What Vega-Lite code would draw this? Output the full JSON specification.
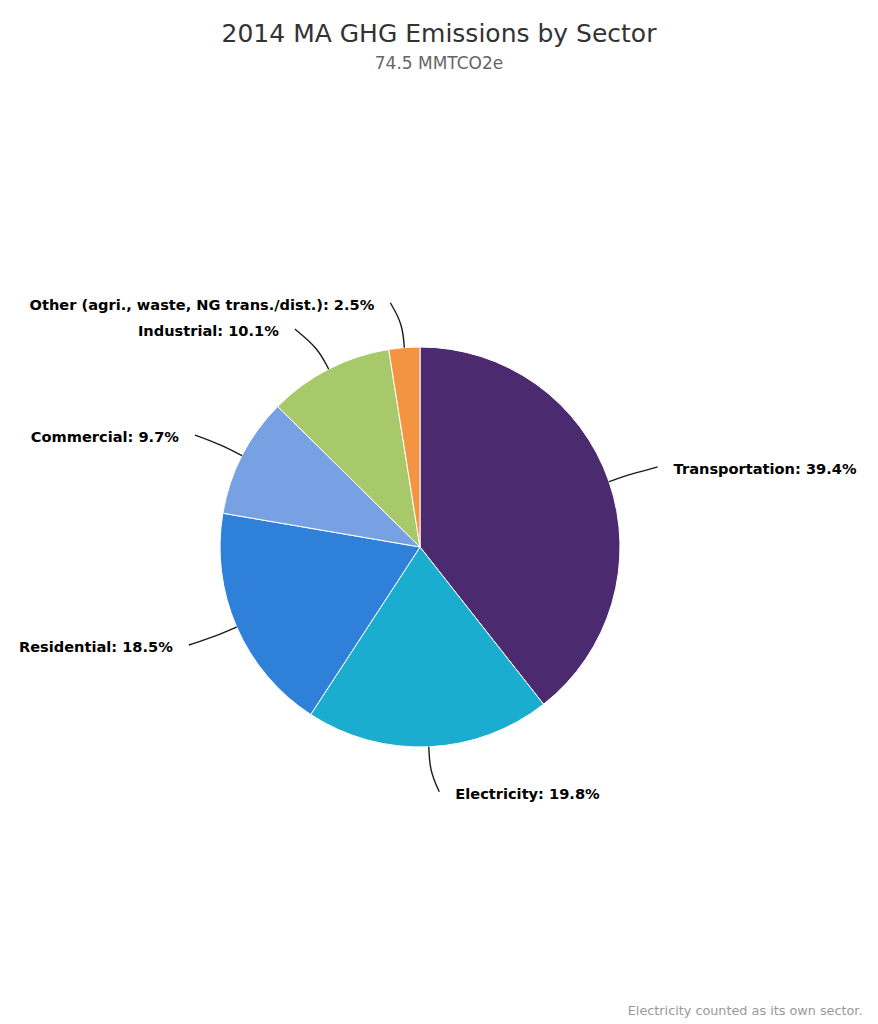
{
  "$schema": "https://vega.github.io/schema/vega-lite/v6.json",
  "width": 862,
  "height": 910,
  "autosize": {"type": "none"},
  "padding": {"top": 90, "bottom": 24, "left": 0, "right": 16},
  "background": "#ffffff",
  "title": {
    "text": "2014 MA GHG Emissions by Sector",
    "subtitle": "74.5 MMTCO2e",
    "anchor": "middle",
    "frame": "group",
    "dx": 8,
    "offset": 18,
    "font": "DejaVu Sans",
    "fontSize": 25,
    "fontWeight": "normal",
    "color": "#333333",
    "subtitleFont": "DejaVu Sans",
    "subtitleFontSize": 17,
    "subtitleColor": "#666666",
    "subtitlePadding": 9
  },
  "data": {
    "values": [
      {"idx": 1, "sector": "Transportation", "pct": 39.4},
      {"idx": 2, "sector": "Electricity", "pct": 19.8},
      {"idx": 3, "sector": "Residential", "pct": 18.5},
      {"idx": 4, "sector": "Commercial", "pct": 9.7},
      {"idx": 5, "sector": "Industrial", "pct": 10.1},
      {"idx": 6, "sector": "Other (agri., waste, NG trans./dist.)", "pct": 2.5}
    ]
  },
  "transform": [
    {"window": [{"op": "sum", "field": "pct", "as": "cum"}], "sort": [{"field": "idx"}], "frame": [null, 0]},
    {"calculate": "(datum.cum - datum.pct / 2) / 100 * 2 * PI", "as": "a"},
    {"calculate": "sin(datum.a)", "as": "ex"},
    {"calculate": "cos(datum.a)", "as": "ey"},
    {"calculate": "datum.ex >= 0 ? 1 : -1", "as": "sg"},
    {"calculate": "datum.ex * 1.12", "as": "bx"},
    {"calculate": "datum.ey * 1.12", "as": "by"},
    {"calculate": "datum.ex + datum.sg * 0.25 * sqrt(abs(datum.ex))", "as": "lx"},
    {"calculate": "datum.ey * 1.225", "as": "ly"},
    {"calculate": "datum.lx + datum.sg * 0.08", "as": "tx"},
    {"calculate": "datum.ly - 0.015", "as": "ty"},
    {"calculate": "datum.sector + ': ' + format(datum.pct, '.1f') + '%'", "as": "label"}
  ],
  "layer": [
    {
      "mark": {"type": "arc", "outerRadius": 200, "stroke": "#ffffff", "strokeWidth": 1},
      "encoding": {
        "x": {"datum": 0, "type": "quantitative", "scale": {"domain": [-2.1, 2.21], "nice": false, "zero": false}, "title": "Electricity counted as its own sector."},
        "y": {"datum": 0, "type": "quantitative", "scale": {"domain": [-2.265, 2.285], "nice": false, "zero": false}, "axis": null},
        "theta": {"field": "pct", "type": "quantitative", "stack": true},
        "order": {"field": "idx", "type": "quantitative"},
        "color": {
          "field": "sector",
          "type": "nominal",
          "scale": {
            "domain": ["Transportation", "Electricity", "Residential", "Commercial", "Industrial", "Other (agri., waste, NG trans./dist.)"],
            "range": ["#4b2a70", "#1badcf", "#2f80d8", "#78a1e4", "#a7c96a", "#f29442"]
          },
          "legend": null
        }
      }
    },
    {
      "transform": [
        {"calculate": "[datum.ex, datum.bx, datum.lx]", "as": "px"},
        {"calculate": "[datum.ey, datum.by, datum.ly]", "as": "py"},
        {"calculate": "[0, 1, 2]", "as": "pi"},
        {"flatten": ["px", "py", "pi"]}
      ],
      "mark": {"type": "line", "interpolate": "basis", "color": "#1a1a1a", "strokeWidth": 1.4},
      "encoding": {
        "x": {"field": "px", "type": "quantitative", "title": "Electricity counted as its own sector."},
        "y": {"field": "py", "type": "quantitative", "axis": null},
        "detail": {"field": "sector"},
        "order": {"field": "pi", "type": "quantitative"}
      }
    },
    {
      "transform": [{"filter": "datum.sg > 0"}],
      "mark": {"type": "text", "align": "left", "baseline": "middle", "font": "DejaVu Sans", "fontSize": 14.6, "fontWeight": "bold", "color": "#000000"},
      "encoding": {
        "x": {"field": "tx", "type": "quantitative", "title": "Electricity counted as its own sector."},
        "y": {"field": "ty", "type": "quantitative", "axis": null},
        "text": {"field": "label"}
      }
    },
    {
      "transform": [{"filter": "datum.sg < 0"}],
      "mark": {"type": "text", "align": "right", "baseline": "middle", "font": "DejaVu Sans", "fontSize": 14.6, "fontWeight": "bold", "color": "#000000"},
      "encoding": {
        "x": {"field": "tx", "type": "quantitative", "title": "Electricity counted as its own sector."},
        "y": {"field": "ty", "type": "quantitative", "axis": null},
        "text": {"field": "label"}
      }
    }
  ],
  "config": {
    "view": {"stroke": null},
    "axisX": {
      "labels": false,
      "ticks": false,
      "domain": false,
      "grid": false,
      "titleAnchor": "end",
      "titleFont": "DejaVu Sans",
      "titleFontSize": 12.8,
      "titleFontWeight": "normal",
      "titleColor": "#999999",
      "titlePadding": 4
    }
  }
}
